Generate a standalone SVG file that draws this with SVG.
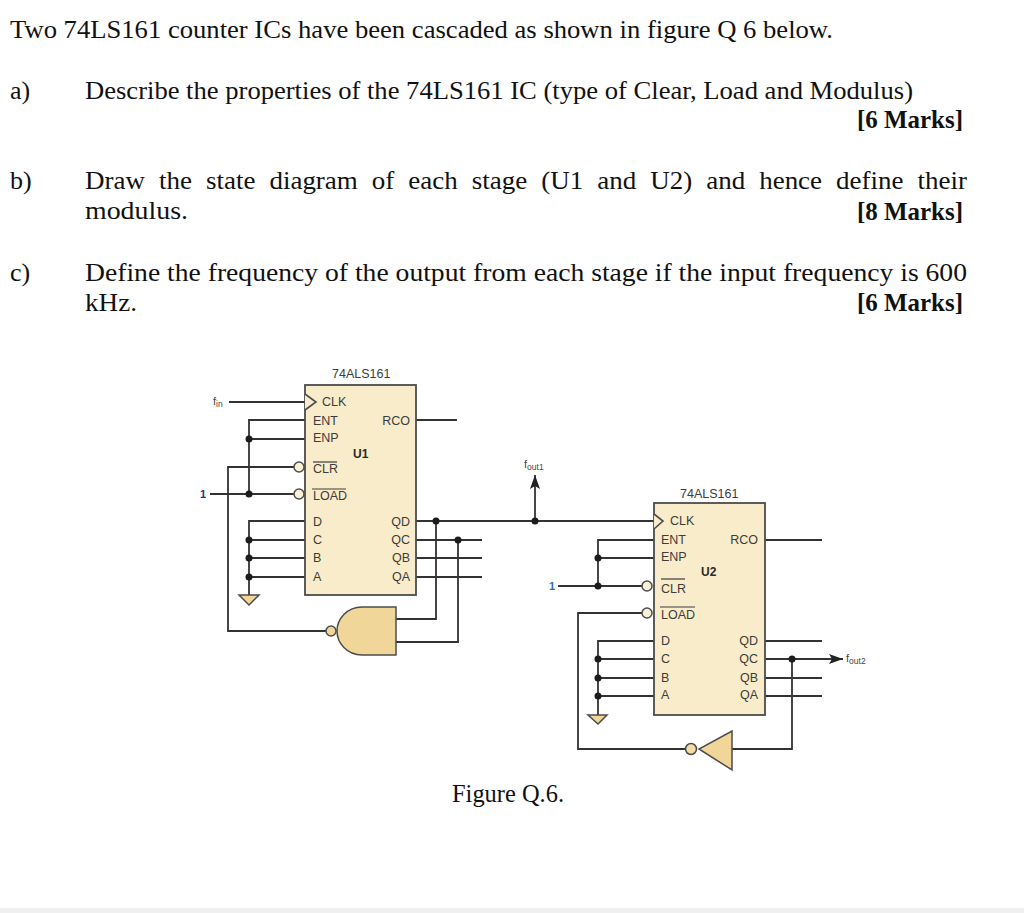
<svg xmlns="http://www.w3.org/2000/svg" width="1024" height="913" viewBox="0 0 1024 913">
<style>
.t{font-family:"Liberation Serif","Times New Roman",serif;font-size:26px;fill:#111}
.m{font-family:"Liberation Serif","Times New Roman",serif;font-size:26px;fill:#111;font-weight:bold}
.l{font-family:"Liberation Sans",Arial,sans-serif;font-size:12.5px;fill:#3c3c3c}
.b{font-family:"Liberation Sans",Arial,sans-serif;font-size:12px;fill:#2a2a2a;font-weight:bold}
.s{font-family:"Liberation Sans",Arial,sans-serif;font-size:11px;fill:#444}
.n{font-family:"Liberation Sans",Arial,sans-serif;font-size:11px;font-weight:bold}
.chip{fill:#f9ecca;stroke:#4c4c4c;stroke-width:1.8}
.ck{fill:#f9ecca;stroke:#4c4c4c;stroke-width:1.6}
.gate{fill:#f0d699;stroke:#4c4c4c;stroke-width:1.5}
.bub{fill:#fbf1d6;stroke:#4c4c4c;stroke-width:1.5}
.over{stroke:#3c3c3c;stroke-width:1.2;fill:none}
.w{fill:none;stroke:#333;stroke-width:1.8}
.d{fill:#1c1c1c;stroke:none}
</style>
<defs>
<marker id="ah" markerUnits="userSpaceOnUse" markerWidth="16" markerHeight="12" refX="14" refY="5" orient="auto">
<path d="M0 0L14 5L0 10L3 5Z" fill="#222"/>
</marker>
</defs>
<rect width="1024" height="913" fill="#fff"/>
<rect y="908" width="1024" height="5" fill="#f0f0f0"/>
<g id="question">
<text class="t" x="10" y="38" textLength="823" lengthAdjust="spacingAndGlyphs">Two 74LS161 counter ICs have been cascaded as shown in figure Q 6 below.</text>
<text class="t" x="10" y="99">a)</text>
<text class="t" x="85" y="99" textLength="828" lengthAdjust="spacingAndGlyphs">Describe the properties of the 74LS161 IC (type of Clear, Load and Modulus)</text>
<text class="m" x="857" y="128" textLength="106" lengthAdjust="spacingAndGlyphs">[6 Marks]</text>
<text class="t" x="10" y="189">b)</text>
<text class="t" x="85" y="189" word-spacing="7" textLength="882" lengthAdjust="spacingAndGlyphs">Draw the state diagram of each stage (U1 and U2) and hence define their</text>
<text class="t" x="85" y="219" textLength="103" lengthAdjust="spacingAndGlyphs">modulus.</text>
<text class="m" x="857" y="220" textLength="106" lengthAdjust="spacingAndGlyphs">[8 Marks]</text>
<text class="t" x="10" y="281">c)</text>
<text class="t" x="85" y="281" textLength="882" lengthAdjust="spacingAndGlyphs">Define the frequency of the output from each stage if the input frequency is 600</text>
<text class="t" x="85" y="311" textLength="52" lengthAdjust="spacingAndGlyphs">kHz.</text>
<text class="m" x="857" y="311" textLength="106" lengthAdjust="spacingAndGlyphs">[6 Marks]</text>
<text class="t" x="452" y="802" textLength="112" lengthAdjust="spacingAndGlyphs">Figure Q.6.</text>
</g>
<g id="connectors">
<path class="w" d="M229 402H305"/>
<path class="w" d="M305 420H249V494"/>
<path class="w" d="M249 439H305"/>
<path class="w" d="M210 494H294"/>
<path class="w" d="M294 467H228V631H326"/>
<path class="w" d="M305 521H249V595"/>
<path class="w" d="M249 540H305M249 558H305M249 577H305"/>
<path class="w" d="M416 420H457"/>
<path class="w" d="M416 521H654"/>
<path class="w" d="M416 540H482M416 558H482M416 577H482"/>
<path class="w" d="M436 521V619H396"/>
<path class="w" d="M458 540V642H396"/>
<path class="w" d="M535 521V475" marker-end="url(#ah)"/>
<path class="w" d="M654 540H598V586"/>
<path class="w" d="M598 558H654"/>
<path class="w" d="M558 586H642"/>
<path class="w" d="M642 613H578V749H686"/>
<path class="w" d="M654 641H598V715"/>
<path class="w" d="M598 659H654M598 678H654M598 696H654"/>
<path class="w" d="M765 540H822M765 641H822M765 678H822M765 696H822"/>
<path class="w" d="M765 659H843" marker-end="url(#ah)"/>
<path class="w" d="M792 659V749H732"/>
<circle class="d" cx="249" cy="439" r="3.5"/><circle class="d" cx="249" cy="494" r="3.5"/>
<circle class="d" cx="249" cy="540" r="3.5"/><circle class="d" cx="249" cy="558" r="3.5"/><circle class="d" cx="249" cy="577" r="3.5"/>
<circle class="d" cx="436" cy="521" r="3.5"/><circle class="d" cx="458" cy="540" r="3.5"/>
<circle class="d" cx="535" cy="521" r="3.5"/>
<circle class="d" cx="598" cy="558" r="3.5"/><circle class="d" cx="598" cy="586" r="3.5"/>
<circle class="d" cx="598" cy="659" r="3.5"/><circle class="d" cx="598" cy="678" r="3.5"/><circle class="d" cx="598" cy="696" r="3.5"/>
<circle class="d" cx="792" cy="659" r="3.5"/>
</g>
<g id="U1">
<rect class="chip" x="305" y="385" width="111" height="210"/>
<path class="ck" d="M305 394L316 402L305 410"/>
<circle class="bub" cx="299" cy="467" r="5"/><circle class="bub" cx="299" cy="494" r="5"/>
<text class="l" x="332" y="378">74ALS161</text>
<text class="l" x="322" y="406">CLK</text>
<text class="l" x="313" y="425">ENT</text>
<text class="l" x="313" y="442">ENP</text>
<text class="b" x="353" y="458">U1</text>
<text class="l" x="313" y="473">CLR</text><path class="over" d="M313 462H337"/>
<text class="l" x="313" y="500">LOAD</text><path class="over" d="M312 489H346"/>
<text class="l" x="313" y="526">D</text><text class="l" x="313" y="544">C</text><text class="l" x="313" y="562">B</text><text class="l" x="313" y="581">A</text>
<text class="l" x="410" y="425" text-anchor="end">RCO</text>
<text class="l" x="410" y="526" text-anchor="end">QD</text><text class="l" x="410" y="544" text-anchor="end">QC</text><text class="l" x="410" y="562" text-anchor="end">QB</text><text class="l" x="410" y="581" text-anchor="end">QA</text>
</g>
<g id="U2">
<rect class="chip" x="654" y="503" width="111" height="212"/>
<path class="ck" d="M654 514L663 521L654 529"/>
<circle class="bub" cx="647" cy="586" r="5"/><circle class="bub" cx="647" cy="613" r="5"/>
<text class="l" x="680" y="498">74ALS161</text>
<text class="l" x="670" y="525">CLK</text>
<text class="l" x="661" y="544">ENT</text>
<text class="l" x="661" y="561">ENP</text>
<text class="b" x="701" y="576">U2</text>
<text class="l" x="661" y="593">CLR</text><path class="over" d="M661 579H685"/>
<text class="l" x="661" y="619">LOAD</text><path class="over" d="M660 607H695"/>
<text class="l" x="661" y="645">D</text><text class="l" x="661" y="663">C</text><text class="l" x="661" y="682">B</text><text class="l" x="661" y="699">A</text>
<text class="l" x="758" y="544" text-anchor="end">RCO</text>
<text class="l" x="758" y="645" text-anchor="end">QD</text><text class="l" x="758" y="663" text-anchor="end">QC</text><text class="l" x="758" y="682" text-anchor="end">QB</text><text class="l" x="758" y="699" text-anchor="end">QA</text>
</g>
<g id="nand">
<path class="gate" d="M396 607H362C347 607 337 619 337 631C337 643 347 655 362 655H396Z"/>
<circle class="bub" cx="331" cy="631" r="5" style="fill:#f0d699"/>
</g>
<g id="inverter">
<path class="gate" d="M732 731V770L699 749Z"/>
<circle class="bub" cx="691" cy="749" r="5.5" style="fill:#f3dca6"/>
</g>
<g id="ground1"><path class="gate" d="M239 595H259L249 605Z"/></g>
<g id="ground2"><path class="gate" d="M588 715H607L598 724Z"/></g>
<g id="labels">
<text class="s" x="213" y="405">f<tspan font-size="8.5" dy="2">in</tspan></text>
<text class="n" x="200" y="498" fill="#2a3580">1</text>
<text class="n" x="549" y="590" fill="#2c6fb0">1</text>
<text class="s" x="524" y="468">f<tspan font-size="8.5" dy="2">out1</tspan></text>
<text class="s" x="846" y="662">f<tspan font-size="8.5" dy="2">out2</tspan></text>
</g>
</svg>
